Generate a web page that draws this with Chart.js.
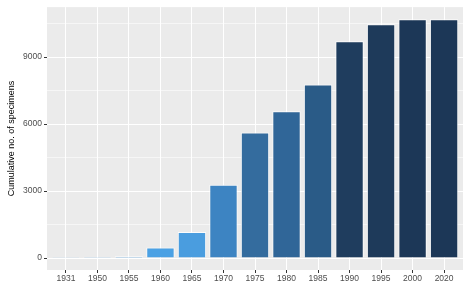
<!DOCTYPE html>
<html>
<head>
<meta charset="utf-8">
<script src="https://cdn.jsdelivr.net/npm/chart.js@4"></script>
<style>
  html, body { margin: 0; padding: 0; background: #ffffff; }
  #wrap { width: 474px; height: 297px; }
</style>
</head>
<body>
<div id="wrap"><canvas id="cumul"></canvas></div>
<script>
// years shown on the x axis
const years = ["1931", "1950", "1955", "1960", "1965", "1970", "1975", "1980", "1985", "1990", "1995", "2000", "2020"];
// cumulative number of specimens per year
const counts = [10, 45, 80, 476, 1168, 3283, 5619, 6575, 7765, 9704, 10467, 10688, 10688];
// y axis ticks (labelled) and minor grid lines
const yMajor = [0, 3000, 6000, 9000];
const yMinor = [1500, 4500, 7500, 10500];

// bar fills, light blue to navy
const fills = ["#56AEF2", "#52A8EB", "#4FA5E8", "#4BA1E4", "#4A9DDF", "#3D84C2", "#346C9E",
               "#306698", "#2A5B87", "#1F3D5E", "#1E3A5A", "#1C3757", "#1C3757"];

const panelBg = {
  id: "panelBg",
  beforeDraw(chart) {
    const a = chart.chartArea, ctx = chart.ctx;
    ctx.save();
    ctx.fillStyle = "#EBEBEB";
    ctx.fillRect(a.left, a.top, a.right - a.left, a.bottom - a.top);
    ctx.restore();
  }
};

const ctx = document.getElementById("cumul");
new Chart(ctx, {
  type: "bar",
  data: {
    datasets: [{
      data: counts.map((v, i) => ({ x: i, y: v })),
      backgroundColor: fills,
      borderColor: "rgba(255,255,255,0.85)",
      borderWidth: 1,
      barPercentage: 0.9,
      categoryPercentage: 1.0
    }]
  },
  options: {
    responsive: true,
    maintainAspectRatio: false,
    animation: false,
    layout: { padding: { top: 4, right: 11, left: 0, bottom: 0 } },
    plugins: { legend: { display: false }, tooltip: { enabled: false } },
    scales: {
      x: {
        type: "linear",
        offset: false,
        min: -0.6,
        max: years.length - 1 + 0.6,
        afterBuildTicks: s => { s.ticks = years.map((y, i) => ({ value: i })); },
        afterFit: s => { s.height = 27; },
        border: { display: false },
        grid: { offset: false, color: "#ffffff", lineWidth: 1, tickColor: "#333333", tickLength: 3 },
        ticks: {
          padding: 1,
          color: "#4D4D4D",
          font: { family: "Liberation Sans", size: 8.5 },
          callback: v => years[v],
          maxRotation: 0,
          autoSkip: false
        }
      },
      y: {
        min: -535,
        max: 11235,
        afterBuildTicks: s => {
          s.ticks = yMajor.concat(yMinor).map(v => ({ value: v }));
        },
        afterFit: s => { s.width = 47; },
        border: { display: false },
        grid: {
          color: c => yMinor.includes(c.tick.value) ? "rgba(255,255,255,0.55)" : "#ffffff",
          lineWidth: 1,
          tickColor: c => yMinor.includes(c.tick.value) ? "rgba(0,0,0,0)" : "#333333",
          tickLength: 3
        },
        ticks: {
          padding: 2,
          color: "#4D4D4D",
          font: { family: "Liberation Sans", size: 8.5 },
          callback: v => yMajor.includes(v) ? String(v) : ""
        },
        title: {
          display: true,
          text: "Cumulative no. of specimens",
          color: "#000000",
          font: { family: "Liberation Sans", size: 9 },
          padding: { top: 6, bottom: 0 }
        }
      }
    }
  },
  plugins: [panelBg]
});
</script>
</body>
</html>
